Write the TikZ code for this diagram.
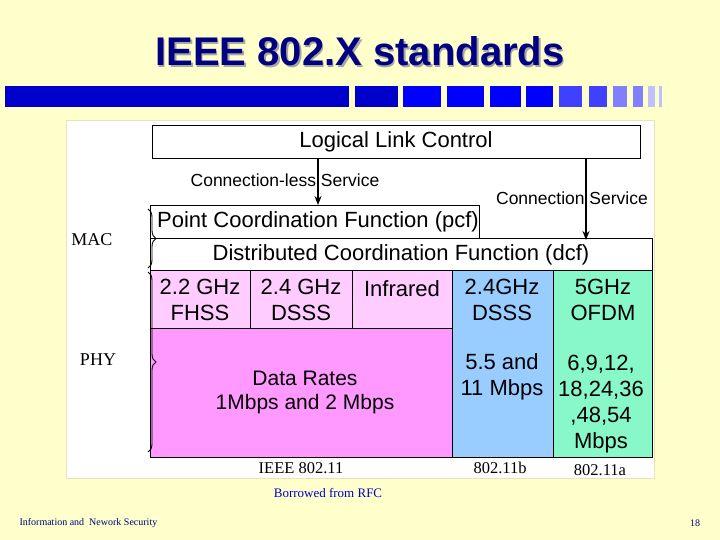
\documentclass[tikz,border=0pt]{standalone}
\usepackage{fontspec}
\setmainfont{Liberation Serif}
\setsansfont{Liberation Sans}
\usetikzlibrary{decorations.pathreplacing,arrows.meta}
\definecolor{bg}{HTML}{FFFFCC}
\definecolor{dkb}{HTML}{0000CC}
\definecolor{bb}{HTML}{0000FF}
\definecolor{mb}{HTML}{4040FF}
\definecolor{lb}{HTML}{8080FF}
\definecolor{vlb}{HTML}{C0C0FF}
\definecolor{pinkL}{HTML}{FFCCFF}
\definecolor{pinkM}{HTML}{FF99FF}
\definecolor{blueC}{HTML}{99CCFF}
\definecolor{greenC}{HTML}{88F8C8}
\definecolor{titleC}{HTML}{000080}
\tikzset{
 cell/.style={draw=black, line width=0.8pt},
 lab/.style={font=\sffamily\fontsize{22}{26}\selectfont, align=center, inner sep=0},
 svc/.style={font=\sffamily\fontsize{17.5}{20}\selectfont, inner sep=0},
 ser/.style={font=\fontsize{17}{20}\selectfont, inner sep=0},
 arr/.style={-{Stealth[length=9pt,width=7pt]}, line width=1.6pt},
 br/.style={decorate, decoration={brace, amplitude=8pt}, line width=0.9pt},
}
\begin{document}
\begin{tikzpicture}[x=1pt,y=-1pt]
\fill[bg] (0,0) rectangle (720,540);
\useasboundingbox (0,0) rectangle (720,540);
% title
\node (title) [font=\sffamily\bfseries\fontsize{40}{44}\selectfont, text=titleC,
  preaction={}] at (360,51) {\makebox[0pt]{\raisebox{-2pt}[0pt][0pt]{\hspace*{3pt}\textcolor{gray!70}{IEEE 802.X standards}}}\makebox[0pt]{IEEE 802.X standards}};
% bars
\fill[dkb] (5,86) rectangle (349,107);
\fill[dkb] (355,86) rectangle (398,107);
\foreach \a/\b in {403/441,447/484,490/521,526/553} \fill[bb] (\a,86) rectangle (\b,107);
\foreach \a/\b in {559/582,589/607} \fill[mb] (\a,86) rectangle (\b,107);
\foreach \a/\b in {613/627,633/643} \fill[lb] (\a,86) rectangle (\b,107);
\foreach \a/\b in {648/655,659/662} \fill[vlb] (\a,86) rectangle (\b,107);
% panel
\draw[fill=white, draw=bg!80!gray] (66,120) rectangle (654,478);
% boxes
\node (llc) [cell, fill=white, minimum width=488, minimum height=33, inner sep=0, lab] at (396,141.5) {Logical Link Control};
\draw[cell, fill=pinkL] (150,270) rectangle (250,328);
\draw[cell, fill=pinkL] (250,270) rectangle (352,328);
\draw[cell, fill=pinkL] (352,270) rectangle (452,328);
\draw[cell, fill=pinkM] (150,328) rectangle (452,457);
\draw[cell, fill=blueC] (452,270) rectangle (553,457);
\draw[cell, fill=greenC] (553,270) rectangle (652,457);
\node (pcf) [cell, fill=white, minimum width=329, minimum height=33, inner sep=0, lab, anchor=north west] at (150,205) {};
\node[lab, anchor=west] at (157,222) {Point Coordination Function (pcf)};
\node (dcf) [cell, fill=white, minimum width=502, minimum height=32, inner sep=0, lab, anchor=north west] at (150,238) {};
\node[lab] at (401,255) {Distributed Coordination Function (dcf)};
\node[lab] at (200,300) {2.2 GHz\\FHSS};
\node[lab] at (301,300) {2.4 GHz\\DSSS};
\node[lab] at (402,289) {Infrared};
\node[lab] at (502,300) {2.4GHz\\DSSS};
\node[lab] at (603,300) {5GHz\\OFDM};
\node[lab, font=\sffamily\fontsize{21}{24}\selectfont] at (305,392) {Data Rates\\1Mbps and 2 Mbps};
\node[lab] at (502,377) {5.5 and\\11 Mbps};
\node[lab, font=\sffamily\fontsize{22}{26}\selectfont] at (601,404) {6,9,12,\\18,24,36\\,48,54\\Mbps};
% arrows
\coordinate (a1) at (318,158);
\coordinate (a2) at (586,158);
\draw[arr] (a1) -- (318,205);
\draw[arr] (a2) -- (586,240);
\node[svc] at (285,180) {Connection-less Service};
\node[svc] at (572,198) {Connection Service};
% braces
\draw[br] (148,209) -- (148,268);
\draw[br] (148,272) -- (148,452);
\node (mac) [ser, font=\fontsize{18}{20}\selectfont] at (92,240) {MAC};
\node (phy) [ser, font=\fontsize{18}{20}\selectfont] at (98,360) {PHY};
% bottom labels
\node[ser, font=\fontsize{16.5}{18}\selectfont] at (301,468) {IEEE 802.11};
\node[ser, font=\fontsize{16.5}{18}\selectfont] at (500,468) {802.11b};
\node[ser, font=\fontsize{16.5}{18}\selectfont] at (600,470) {802.11a};
\node[font=\fontsize{13}{15}\selectfont, text=dkb] at (328,493) {Borrowed from RFC};
\node[font=\fontsize{10}{12}\selectfont, text=titleC, anchor=west] at (16,523) {Information and\ \ Nework Security};
\node[font=\fontsize{10}{12}\selectfont, text=titleC] at (695,523) {18};
\end{tikzpicture}
\end{document}
